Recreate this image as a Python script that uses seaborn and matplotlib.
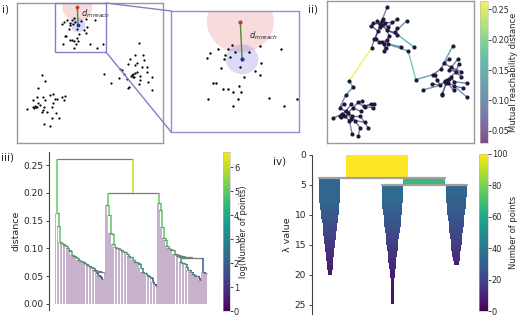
import numpy as np
import matplotlib
matplotlib.use("Agg")
import matplotlib.pyplot as plt
import seaborn as sns
from matplotlib.patches import Circle, Rectangle, ConnectionPatch
from matplotlib.collections import LineCollection
from matplotlib.colors import Normalize
from matplotlib.cm import ScalarMappable

# ---- panel i / ii : the 2-d points (units) ----
left_x = [41.7, 45.0, 38.3, 32.7, 36.7, 43.3, 45.0, 50.0, 53.3, 55.0, 56.7, 61.7, 65.0, 64.0, 52.7, 51.7, 44.3,
          43.3, 38.3, 35.0, 36.0, 33.3, 37.3, 34.0, 26.7, 41.7, 46.7, 56.0, 51.7, 59.3, 44.3, 50.0, 40.0]
left_y = [75.0, 81.0, 88.3, 100.0, 96.7, 96.7, 100.0, 95.0, 94.0, 98.7, 99.3, 96.7, 96.0, 100.0, 103.3, 107.3, 107.3,
          110.0, 103.3, 106.0, 106.7, 107.3, 107.3, 108.3, 109.3, 111.7, 111.7, 113.3, 118.3, 118.3, 124.0, 126.0, 105.0]
top_x = [63.7, 67.4, 71.9, 75.1, 81.4, 70.4, 70.0, 72.7, 62.2, 86.6, 68.5, 77.2, 86.2, 79.0, 65.2, 66.2, 76.7,
         69.7, 71.9, 74.2, 77.6, 76.1, 62.6, 90.3, 102.6, 74.2, 96.9, 95.4, 86.2, 84.0, 73.5]
top_y = [21.8, 20.1, 20.1, 21.6, 21.3, 22.9, 25.0, 24.0, 24.2, 26.6, 29.4, 28.6, 32.6, 33.8, 36.4, 36.4, 37.8,
         39.6, 39.6, 41.2, 41.2, 44.5, 44.5, 43.7, 44.2, 47.7, 47.7, 19.8, 18.5, 30.5, 18.0]
right_x = [138.7, 135.0, 143.3, 130.0, 127.7, 137.3, 141.7, 146.7, 136.7, 131.7, 132.7, 134.0, 131.0, 140.0, 146.7,
           151.7, 120.0, 104.0, 119.0, 126.7, 128.7, 140.0, 139.3, 128.3, 151.7, 111.0, 124.0, 135.3, 148.3, 121.7,
           133.0, 135.0, 144.0]
right_y = [42.7, 55.0, 55.0, 59.0, 64.0, 62.7, 66.7, 66.7, 71.7, 75.0, 76.7, 76.7, 76.0, 76.0, 71.7,
           77.3, 69.3, 74.0, 77.7, 79.3, 87.3, 80.0, 84.0, 88.3, 90.0, 83.3, 74.0, 65.0, 81.7, 70.0,
           74.0, 73.0, 60.0]
core_xy = (77.3, 6.7)        # highlighted point (red)
nbr_xy = (78.1, 25.0)        # its neighbour (blue)
core_r, nbr_r = 15.0, 7.3    # core distances drawn as discs
DIST_SCALE = 0.007           # point units -> distance units
MIN_SAMPLES = 4

# ---- panel iii : gaps between consecutive leaves of the single linkage tree ----
left_gaps = [0.163, 0.140, 0.112, 0.110, 0.108, 0.107, 0.105, 0.100, 0.098, 0.096, 0.088, 0.086, 0.085, 0.083,
             0.079, 0.078, 0.077, 0.075, 0.073, 0.072, 0.071, 0.069, 0.067, 0.064, 0.062, 0.060, 0.055, 0.053,
             0.051, 0.049, 0.045, 0.058]
mid_gaps = [0.178, 0.160, 0.128, 0.125, 0.108, 0.103, 0.101, 0.100, 0.099, 0.097, 0.095, 0.094, 0.093, 0.090,
            0.086, 0.085, 0.084, 0.080, 0.076, 0.075, 0.074, 0.072, 0.065, 0.058, 0.056, 0.055, 0.053, 0.050,
            0.048, 0.046, 0.040, 0.036, 0.033]
right_gaps = [0.181, 0.169, 0.139, 0.118, 0.115, 0.104, 0.100, 0.099, 0.098, 0.097, 0.090, 0.088, 0.086, 0.085,
              0.075, 0.074, 0.073, 0.072, 0.066, 0.062, 0.061, 0.058, 0.054, 0.052, 0.051, 0.050, 0.046, 0.043,
              0.082, 0.057, 0.056, 0.055]
split_heights = [0.26, 0.20]
n_total = 100

# ---- panel iv : condensed tree, lambda breakpoints and points left in each cluster ----
root_lam, root_cnt = [0.0, 3.85], [100]
mid_parent_lam, mid_parent_cnt = [3.85, 5.0], [67]
c1_lam = [3.85, 8.0, 8.7, 9.3, 10.0, 10.7, 11.4, 12.1, 12.8, 13.5, 14.2, 14.9, 15.6, 16.3, 17.0, 17.7, 18.4, 19.2, 20.1]
c1_cnt = [33, 31, 30, 28, 27, 25, 23, 22, 20, 19, 17, 16, 14, 13, 11, 10, 9, 7]
c2_lam = [5.0, 8.0, 9.0, 10.0, 11.0, 12.0, 13.0, 14.0, 15.0, 16.0, 17.0, 18.0, 19.0, 20.5, 22.5, 24.9]
c2_cnt = [34, 32, 30, 28, 26, 24, 21, 19, 17, 15, 13, 11, 8, 6, 5]
c3_lam = [5.0, 7.0, 8.0, 9.0, 10.0, 11.0, 12.0, 13.0, 14.0, 15.0, 16.0, 17.0, 17.8, 18.4]
c3_cnt = [33, 31, 30, 28, 26, 24, 22, 20, 18, 16, 13, 11, 8]

sns.set_theme(style="white")
plt.rcParams["font.family"] = ["DejaVu Sans"]
plt.rcParams.update({"xtick.labelsize": 6.5, "ytick.labelsize": 6.5, "axes.labelsize": 6.8,
                     "xtick.major.size": 2.5, "ytick.major.size": 2.5,
                     "xtick.major.width": 0.6, "ytick.major.width": 0.6})
cmap = plt.get_cmap("viridis")

all_x = np.array(left_x + top_x + right_x + [core_xy[0], nbr_xy[0]])
all_y = np.array(left_y + top_y + right_y + [core_xy[1], nbr_xy[1]])

fig = plt.figure(figsize=(5.2, 3.16), dpi=100)

# ================= panel i =================
ax1 = fig.add_axes([0.0327, 0.5475, 0.2808, 0.4430])
axz = fig.add_axes([0.3288, 0.5832, 0.2456, 0.3820])
for ax, frame, s in ((ax1, "#9a9a9a", 2.5), (axz, "#9090d0", 3)):
    ax.add_patch(Circle(core_xy, core_r, fc="#e57373", alpha=0.25, lw=0, zorder=1))
    ax.add_patch(Circle(nbr_xy, nbr_r, fc="#7373e5", alpha=0.25, lw=0, zorder=1))
    sns.scatterplot(x=all_x, y=all_y, s=s, color="black", linewidth=0, ax=ax, zorder=3)
    ax.plot([core_xy[0], nbr_xy[0]], [core_xy[1], nbr_xy[1]], color="#4f8a36", lw=1, zorder=4)
    sns.scatterplot(x=[core_xy[0]], y=[core_xy[1]], s=s * 3, color="#c0392b", linewidth=0, ax=ax, zorder=5)
    sns.scatterplot(x=[nbr_xy[0]], y=[nbr_xy[1]], s=s * 3, color="#1f2f9f", linewidth=0, ax=ax, zorder=5)
    ax.text(81, 13.6, r"$d_{mreach}$", fontsize=6, va="center", ha="left", zorder=6)
    ax.set_xticks([])
    ax.set_yticks([])
    for sp in ax.spines.values():
        sp.set_color(frame)
        sp.set_linewidth(1)
ax1.set(xlim=(17, 163), ylim=(143, 3))
axz.set(xlim=(46.2, 103.5), ylim=(60.3, 1.5))
inset_col = "#8080c8"
ax1.add_patch(Rectangle((55.3, 3), 50.4, 48.7, fill=False, ec=inset_col, lw=1, zorder=6, clip_on=False))
for xa, xb in (((105.7, 3), (0, 1)), ((105.7, 51.7), (0, 0))):
    fig.add_artist(ConnectionPatch(xyA=xa, coordsA=ax1.transData, xyB=xb, coordsB=axz.transAxes,
                                   color=inset_col, lw=1))

# ================= panel ii : minimum spanning tree on mutual reachability =================
pts = np.column_stack([all_x, all_y]) * DIST_SCALE
d = np.sqrt(((pts[:, None, :] - pts[None, :, :]) ** 2).sum(-1))
core = np.sort(d, axis=1)[:, MIN_SAMPLES]
mr = np.maximum(d, np.maximum(core[:, None], core[None, :]))
n = len(pts)
in_tree = np.zeros(n, bool)
in_tree[0] = True
best = mr[0].copy()
parent = np.zeros(n, int)
segs, weights = [], []
for _ in range(n - 1):
    j = int(np.argmin(np.where(in_tree, np.inf, best)))
    segs.append([(all_x[parent[j]], all_y[parent[j]]), (all_x[j], all_y[j])])
    weights.append(best[j])
    in_tree[j] = True
    upd = mr[j] < best
    best = np.where(upd, mr[j], best)
    parent = np.where(upd, j, parent)

ax2 = fig.add_axes([0.6283, 0.5465, 0.2833, 0.4513])
lc = LineCollection(segs, cmap="viridis", norm=Normalize(0.03, 0.264), linewidths=1.0, alpha=0.7, zorder=2)
lc.set_array(np.array(weights))
ax2.add_collection(lc)
sns.scatterplot(x=all_x, y=all_y, s=9, color="#1d1b3a", linewidth=0, ax=ax2, zorder=3)
ax2.set(xlim=(20.5, 158.5), ylim=(132.7, 1.2), xticks=[], yticks=[])
for sp in ax2.spines.values():
    sp.set_color("#9a9a9a")
    sp.set_linewidth(1)
cax2 = fig.add_axes([0.9231, 0.5475, 0.0154, 0.4503])
cb2 = fig.colorbar(lc, cax=cax2, ticks=[0.05, 0.10, 0.15, 0.20, 0.25])

# ================= panel iii : single linkage dendrogram =================
gaps = left_gaps + [split_heights[0]] + mid_gaps + [split_heights[1]] + right_gaps
norm3 = Normalize(0, np.log2(n_total))
ax3 = fig.add_axes([0.0942, 0.0190, 0.3135, 0.5])
owner = list(range(n_total))
blocks = {i: dict(center=float(i), h=0.0, size=1) for i in range(n_total)}
leaf_h = np.zeros(n_total)
vsegs, vcols, hsegs = [], [], []
nxt = n_total
for k in np.argsort(gaps, kind="stable"):
    g = gaps[k]
    a, b = owner[k], owner[k + 1]
    for bid in (a, b):
        blk = blocks[bid]
        if blk["size"] == 1:
            leaf_h[int(blk["center"])] = g
        else:
            vsegs.append([(blk["center"], blk["h"]), (blk["center"], g)])
            vcols.append(cmap(norm3(np.log2(blk["size"]))))
    hsegs.append([(blocks[a]["center"], g), (blocks[b]["center"], g)])
    blocks[nxt] = dict(center=(blocks[a]["center"] + blocks[b]["center"]) / 2, h=g,
                       size=blocks[a]["size"] + blocks[b]["size"])
    owner = [nxt if o in (a, b) else o for o in owner]
    nxt += 1
ax3.bar(np.arange(n_total), leaf_h, width=0.85, color=cmap(0.0), alpha=0.3, linewidth=0, zorder=1)
ax3.add_collection(LineCollection(hsegs, colors="#7a7a7a", linewidths=0.9, zorder=2))
ax3.add_collection(LineCollection(vsegs, colors=vcols, linewidths=1.1, zorder=3))
ax3.set(xlim=(-4.4, 102.5), ylim=(-0.0108, 0.2734), xticks=[], yticks=[0, 0.05, 0.10, 0.15, 0.20, 0.25])
ax3.set_ylabel("distance", labelpad=2)
sns.despine(ax=ax3, bottom=True)
ax3.spines["left"].set_color("#444444")
ax3.spines["left"].set_linewidth(0.8)
ax3.tick_params(axis="y", left=True, pad=1.5)
cax3 = fig.add_axes([0.4283, 0.0158, 0.0140, 0.5044])
cb3 = fig.colorbar(ScalarMappable(norm3, cmap), cax=cax3, ticks=range(7))

# ================= panel iv : condensed tree =================
norm4 = Normalize(0, 100)
ax4 = fig.add_axes([0.5994, 0.0073, 0.3083, 0.5032])
leaf_c = [16.7, 116.6, 218.3]
mid_c = (leaf_c[1] + leaf_c[2]) / 2
root_c = (leaf_c[0] + mid_c) / 2
for xc, lams, cnts in ((root_c, root_lam, root_cnt), (mid_c, mid_parent_lam, mid_parent_cnt),
                       (leaf_c[0], c1_lam, c1_cnt), (leaf_c[1], c2_lam, c2_cnt), (leaf_c[2], c3_lam, c3_cnt)):
    lo, hi = np.array(lams[:-1]), np.array(lams[1:])
    ax4.bar(np.full(len(cnts), xc), hi - lo, width=cnts, bottom=lo,
            color=cmap(norm4(np.array(cnts))), linewidth=0, zorder=1)
ax4.plot([leaf_c[0] - c1_cnt[0] / 2, mid_c + mid_parent_cnt[0] / 2], [root_lam[-1]] * 2,
         color="#a0a0a0", lw=1.6, zorder=2)
ax4.plot([leaf_c[1] - c2_cnt[0] / 2, leaf_c[2] + c3_cnt[0] / 2], [mid_parent_lam[-1]] * 2,
         color="#a0a0a0", lw=1.6, zorder=2)
ax4.set(xlim=(-12.1, 243.5), ylim=(26.5, 0), xticks=[], yticks=[0, 5, 10, 15, 20, 25])
ax4.set_ylabel("λ value", labelpad=2)
sns.despine(ax=ax4, bottom=True)
ax4.spines["left"].set_color("#444444")
ax4.spines["left"].set_linewidth(0.8)
ax4.tick_params(axis="y", left=True, pad=1.5)
cax4 = fig.add_axes([0.9221, 0.0158, 0.0160, 0.4978])
cb4 = fig.colorbar(ScalarMappable(norm4, cmap), cax=cax4, ticks=[0, 20, 40, 60, 80, 100])

# colorbar styling, labels placed by hand so they sit right beside the tick labels
for cb, label, xc in ((cb2, "Mutual reachability distance", 514), (cb3, "log(Number of points)", 244),
                      (cb4, "Number of points", 513)):
    cb.outline.set_linewidth(0.4)
    cb.outline.set_edgecolor("#bbbbbb")
    cb.ax.tick_params(labelsize=5.9, length=1.8, pad=1)
    fig.text(xc / 520, cb.ax.get_position().y0 + cb.ax.get_position().height / 2, label,
             rotation=90, fontsize=6.0, ha="center", va="center")

for txt, x, y in (("i)", 2, 9), ("ii)", 308, 9), ("iii)", 1, 157), ("iv)", 273, 161)):
    fig.text(x / 520, 1 - y / 316, txt, fontsize=7.5, va="center", ha="left")

fig.savefig("out.png", dpi=100)
